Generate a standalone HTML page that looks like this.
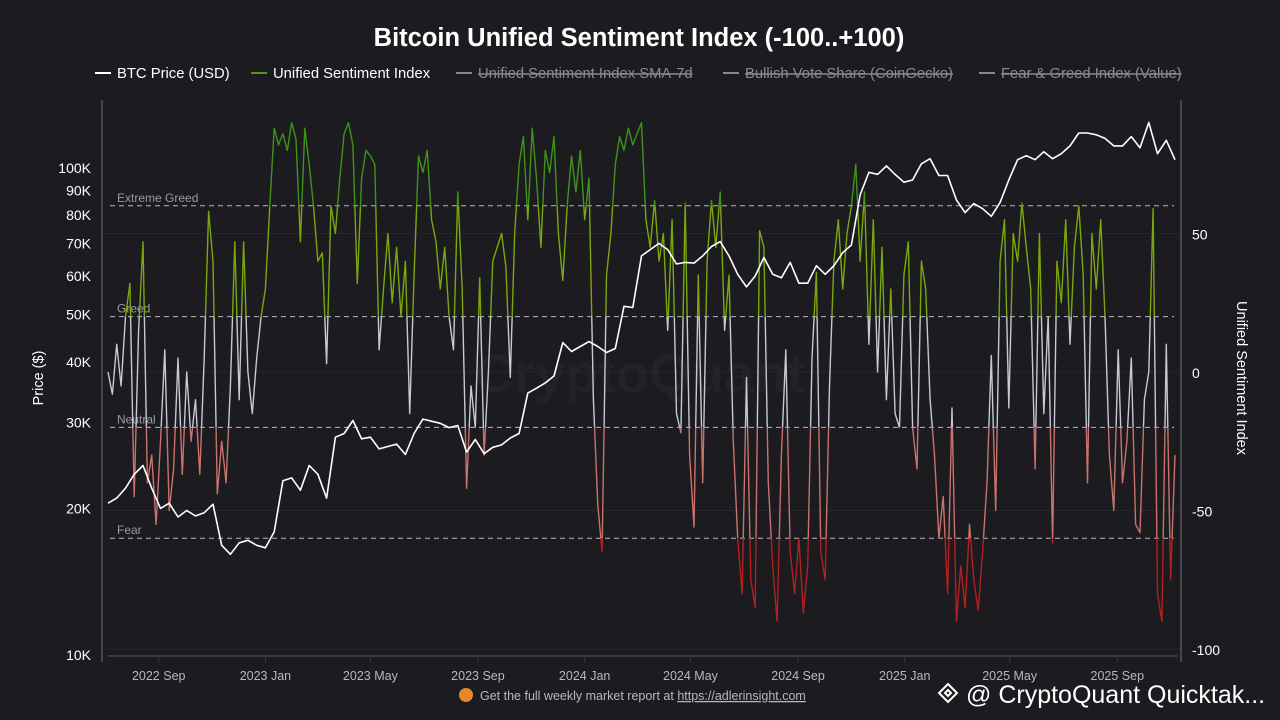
<!DOCTYPE html>
<html><head><meta charset="utf-8">
<style>
html,body{margin:0;padding:0;background:#1b1b20;}
body{width:1280px;height:720px;overflow:hidden;font-family:"Liberation Sans",sans-serif;}
svg{display:block;}
</style></head>
<body>
<svg id="chart" width="1280" height="720" viewBox="0 0 1280 720" xmlns="http://www.w3.org/2000/svg">
<rect width="1280" height="720" fill="#1b1b20"/>
<text x="639" y="46" text-anchor="middle" fill="#ffffff" font-size="25.5" font-weight="bold">Bitcoin Unified Sentiment Index (-100..+100)</text>
<g id="legend" font-size="14.8">
  <g><line x1="95" y1="73" x2="111" y2="73" stroke="#fff" stroke-width="2"/><text x="117" y="78" fill="#ffffff">BTC Price (USD)</text></g>
  <g><line x1="251" y1="73" x2="267" y2="73" stroke="#4a9a1c" stroke-width="2"/><text x="273" y="78" fill="#ffffff">Unified Sentiment Index</text></g>
  <g><line x1="456" y1="73" x2="472" y2="73" stroke="#888" stroke-width="2"/><text x="478" y="78" fill="#8a8a90" text-decoration="line-through">Unified Sentiment Index SMA-7d</text></g>
  <g><line x1="723" y1="73" x2="739" y2="73" stroke="#888" stroke-width="2"/><text x="745" y="78" fill="#8a8a90" text-decoration="line-through">Bullish Vote Share (CoinGecko)</text></g>
  <g><line x1="979" y1="73" x2="995" y2="73" stroke="#888" stroke-width="2"/><text x="1001" y="78" fill="#8a8a90" text-decoration="line-through">Fear &amp; Greed Index (Value)</text></g>
</g>
<text x="640" y="392" text-anchor="middle" fill="#222228" font-size="54" font-weight="bold">CryptoQuant</text>
<g id="grid"></g>
<g id="bands"></g>
<g id="series"></g>
<g id="axes"></g>
<g>
  <circle cx="466" cy="695" r="7" fill="#e8872a"/>
  <text x="480" y="700" fill="#b8b8c0" font-size="12.5">Get the full weekly market report at <tspan text-decoration="underline">https://adlerinsight.com</tspan></text>
  <g><path d="M948 684 l9 9 -9 9 -9 -9z M948 690 l3 3 -3 3 -3 -3z" fill="none" stroke="#fff" stroke-width="2"/></g>
  <text x="966" y="703" fill="#ffffff" font-size="25">@ CryptoQuant Quicktak...</text>
</g>
</svg>
<script>
// ---- data ----
const startDate = "2022-07-05";
const sentimentStepDays = 5;
const priceStepDays = 10;
const sentimentValues = [
0,-8,10,-5,20,32,-45,15,47,-40,
-30,-55,-25,8,-50,-35,5,-37,0,-25,
-10,-37,5,58,40,-44,-25,-40,-5,47,
-10,47,0,-15,5,20,30,60,88,82,
86,80,90,84,47,88,75,60,40,43,
3,60,50,70,86,90,82,32,70,80,
78,75,8,30,50,25,45,20,40,-15,
35,78,72,80,55,47,30,45,20,8,
65,30,-42,-5,-20,34,-30,0,40,45,
50,38,-2,50,75,85,55,88,70,45,
80,72,85,50,33,60,78,65,80,55,
70,-10,-48,-65,35,50,75,85,80,88,
82,86,90,55,45,62,40,50,15,55,
-15,-22,61,-30,-56,35,-40,40,62,45,
65,15,35,-25,-60,-80,-2,-75,-85,51,
45,-40,-70,-90,-30,8,-65,-80,-60,-87,
-70,5,36,-65,-75,-5,40,55,30,50,
60,75,40,65,10,55,0,45,-10,30,
-15,-20,35,47,-20,-35,40,30,-10,-30,
-60,-45,-80,-13,-90,-70,-85,-55,-75,-86,
-65,-40,6,-50,40,55,-13,50,40,61,
45,30,-35,50,-15,20,-62,40,25,55,
10,45,60,35,-40,50,30,55,20,-30,
-50,8,-40,-25,5,-55,-58,-10,0,59,
-80,-90,10,-75,-30];
const priceK = [
20.5,21.0,22.0,23.5,24.5,22.0,20.0,20.5,19.2,19.8,19.3,19.6,20.4,16.8,16.1,17.0,17.2,16.8,
16.6,17.9,22.8,23.1,21.8,24.5,23.5,21.0,28.0,28.5,30.3,27.8,28.0,26.5,26.8,27.1,25.8,28.5,30.5,30.2,29.9,29.3,29.6,26.1,27.7,25.9,26.7,27.0,27.9,28.5,34.5,35.3,36.2,37.4,43.8,42.0,43.0,
44.0,43.0,41.8,42.6,52.0,51.7,66.0,68.0,70.0,68.0,63.5,64.0,63.8,66.0,69.0,70.6,66.0,60.5,57.0,60.0,65.5,60.5,59.5,64.0,58.0,58.0,63.0,60.5,63.0,67.0,69.5,88.0,98.0,97.0,101.0,97.0,93.5,
94.5,102.0,104.5,96.5,96.5,86.0,81.0,84.5,82.5,79.6,85.0,94.5,104.0,106.0,104.0,108.0,104.5,107.0,111.0,118.0,118.0,117.0,115.0,111.0,111.0,116.0,110.0,124.0,107.0,114.0,104.0];
const priceTicks = [10,20,30,40,50,60,70,80,90,100];
const sentTicks = [50,0,-50,-100];
const bandLevels = [60,20,-20,-60];
const bandNames = ["Extreme Greed","Greed","Neutral","Fear"];
const monthTicks = ["2022-09-01","2023-01-01","2023-05-01","2023-09-01","2024-01-01","2024-05-01","2024-09-01","2025-01-01","2025-05-01","2025-09-01"];
const monthLabels = ["2022 Sep","2023 Jan","2023 May","2023 Sep","2024 Jan","2024 May","2024 Sep","2025 Jan","2025 May","2025 Sep"];

// ---- scales ----
const NS="http://www.w3.org/2000/svg";
const X0=108, X1=1175, totalDays=1220;
const t0=Date.parse(startDate);
function dayOf(s){return (Date.parse(s)-t0)/86400000;}
function x(d){return X0+d*(X1-X0)/totalDays;}
function yS(v){return 372-v*2.77;}
function yP(k){return 655-487*Math.log10(k/10);}
function el(tag,attrs,parent){const e=document.createElementNS(NS,tag);for(const k in attrs)e.setAttribute(k,attrs[k]);parent.appendChild(e);return e;}

const grid=document.getElementById('grid'), bands=document.getElementById('bands'), series=document.getElementById('series'), axes=document.getElementById('axes');

sentTicks.forEach(v=>{
  const l=el('line',{x1:104,x2:1180,y1:yS(v),y2:yS(v),stroke:'#26262c','stroke-width':1},grid);
  
  
});
bandLevels.forEach((v,i)=>{
  const l=el('line',{x1:110,x2:1174,y1:yS(v),y2:yS(v),stroke:'#b8b8c0','stroke-width':1,'stroke-dasharray':'5,4'},bands);
  
  
  const t=el('text',{x:117,y:yS(v)-4,fill:'#9a9aa2','font-size':12},bands);
  t.textContent=bandNames[i];
  
  
});

// sentiment line, coloured by band via clip paths
const defs=el('defs',{},series);
const zones=[[100,60,'#3f9418'],[60,20,'#7aa80c'],[20,-20,'#c9c9d6'],[-20,-60,'#c9736c'],[-60,-100,'#b3201f']];
const pts=sentimentValues.map((v,i)=>x(i*sentimentStepDays).toFixed(1)+','+yS(v).toFixed(1)).join(' ');
zones.forEach((z,i)=>{
  const cp=el('clipPath',{id:'zone'+i},defs);
  el('rect',{x:100,y:yS(z[0]),width:1090,height:yS(z[1])-yS(z[0])},cp);
  const p=el('polyline',{points:pts,fill:'none',stroke:z[2],'stroke-width':1.4,'stroke-linejoin':'round','clip-path':'url(#zone'+i+')'},series);
  
  
});
const ppts=priceK.map((k,i)=>x(i*priceStepDays).toFixed(1)+','+yP(k).toFixed(1)).join(' ');
const pl=el('polyline',{points:ppts,fill:'none',stroke:'#ffffff','stroke-width':1.6,'stroke-linejoin':'round'},series);



// axes
[[102,'left'],[1181,'right']].forEach(a=>{
  const l=el('line',{x1:a[0],x2:a[0],y1:100,y2:662,stroke:'#55555c','stroke-width':1.5},axes);
  
  
});
const bl=el('line',{x1:108,x2:1178,y1:656,y2:656,stroke:'#3a3a42','stroke-width':2},axes);


priceTicks.forEach(k=>{
  const t=el('text',{x:91,y:yP(k)+5,fill:'#ffffff','font-size':14,'text-anchor':'end'},axes);
  t.textContent=k+'K';
  
  
});
sentTicks.forEach(v=>{
  const t=el('text',{x:1192,y:yS(v)+6,fill:'#ffffff','font-size':14},axes);
  t.textContent=String(v);
  
  
});
monthTicks.forEach((m,i)=>{
  const xx=x(dayOf(m));
  const tk=el('line',{x1:xx,x2:xx,y1:657,y2:662,stroke:'#3a3a42'},axes);
  
  
  const t=el('text',{x:xx,y:680,fill:'#b8b8c0','font-size':12.5,'text-anchor':'middle'},axes);
  t.textContent=monthLabels[i];
  
  
});
const ly=el('text',{x:0,y:0,fill:'#ffffff','font-size':14.5,'text-anchor':'middle',transform:'translate(43,378) rotate(-90)'},axes);
ly.textContent='Price ($)';


const ry=el('text',{x:0,y:0,fill:'#ffffff','font-size':14.5,'text-anchor':'middle',transform:'translate(1237,378) rotate(90)'},axes);
ry.textContent='Unified Sentiment Index';


</script>
</body></html>
